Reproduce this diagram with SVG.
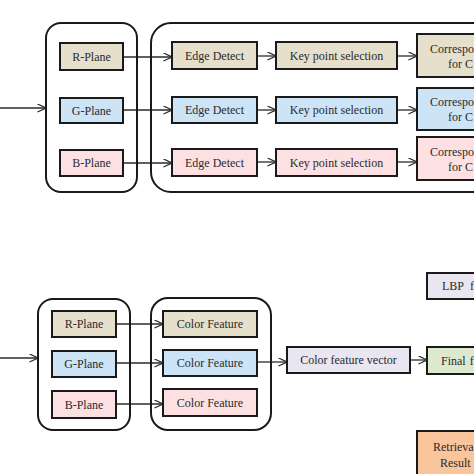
<svg xmlns="http://www.w3.org/2000/svg" width="474" height="474" viewBox="0 0 474 474">
<defs>
<marker id="arr" viewBox="0 0 10 10" refX="9.5" refY="5" markerWidth="9" markerHeight="9" markerUnits="userSpaceOnUse" orient="auto">
<path d="M0,0.5 L9.5,5 L0,9.5" fill="none" stroke="#2a2a2a" stroke-width="1.3"/>
</marker>
</defs>
<style>
.grp{fill:none;stroke:#1a1a1a;stroke-width:2}
.box{stroke:#1a1a1a;stroke-width:2}
.tan{fill:#e6dfcc}.blue{fill:#cde3f6}.pink{fill:#fde1e2}.lav{fill:#e9e5f1}.green{fill:#dde9cf}.orange{fill:#f9c59d}
text{font-family:"Liberation Serif","Times New Roman",serif;font-size:12px;fill:#2a2a2a;text-anchor:middle;dominant-baseline:central}
text.st{text-anchor:start}
.ln{fill:none;stroke:#2a2a2a;stroke-width:1.3;marker-end:url(#arr)}
</style>
<rect width="474" height="474" fill="#ffffff"/>

<g id="connectors">
<line class="ln" x1="0" y1="108" x2="46" y2="108"/>
<line class="ln" x1="123" y1="57" x2="172" y2="57"/>
<line class="ln" x1="123" y1="110" x2="172" y2="110"/>
<line class="ln" x1="123" y1="163" x2="172" y2="163"/>
<line class="ln" x1="257" y1="56" x2="276" y2="56"/>
<line class="ln" x1="257" y1="110" x2="276" y2="110"/>
<line class="ln" x1="257" y1="162" x2="276" y2="162"/>
<line class="ln" x1="397" y1="56" x2="417" y2="56"/>
<line class="ln" x1="397" y1="110" x2="417" y2="110"/>
<line class="ln" x1="397" y1="162" x2="417" y2="162"/>
<line class="ln" x1="0" y1="358" x2="38" y2="358"/>
<line class="ln" x1="116" y1="324" x2="163" y2="324"/>
<line class="ln" x1="116" y1="363" x2="163" y2="363"/>
<line class="ln" x1="116" y1="404" x2="163" y2="404"/>
<line class="ln" x1="257" y1="362" x2="287" y2="362"/>
<line class="ln" x1="410" y1="360" x2="427" y2="360"/>
</g>

<g id="group-top-planes"><rect class="grp" x="46" y="23" width="91" height="169" rx="15"/></g>
<g id="group-top-pipeline"><rect class="grp" x="151" y="23" width="360" height="169" rx="20"/></g>

<g id="top-r-plane"><rect class="box tan" x="60" y="43" width="63" height="27"/><text x="91.5" y="57">R-Plane</text></g>
<g id="top-g-plane"><rect class="box blue" x="60" y="98" width="63" height="25"/><text x="91.5" y="110.5">G-Plane</text></g>
<g id="top-b-plane"><rect class="box pink" x="60" y="150" width="63" height="26"/><text x="91.5" y="163">B-Plane</text></g>

<g id="edge-r"><rect class="box tan" x="172" y="42" width="85" height="27"/><text x="214.5" y="56">Edge Detect</text></g>
<g id="edge-g"><rect class="box blue" x="172" y="97" width="85" height="26"/><text x="214.5" y="110">Edge Detect</text></g>
<g id="edge-b"><rect class="box pink" x="172" y="149" width="85" height="27"/><text x="214.5" y="163">Edge Detect</text></g>

<g id="key-r"><rect class="box tan" x="276" y="42" width="121" height="27"/><text x="336.5" y="56">Key point selection</text></g>
<g id="key-g"><rect class="box blue" x="276" y="97" width="121" height="26"/><text x="336.5" y="110">Key point selection</text></g>
<g id="key-b"><rect class="box pink" x="276" y="149" width="121" height="27"/><text x="336.5" y="163">Key point selection</text></g>

<g id="corr-r"><rect class="box tan" x="417" y="34" width="110" height="43"/><text class="st" x="430" y="49">Correspo</text><text class="st" x="448" y="64">for C</text></g>
<g id="corr-g"><rect class="box blue" x="417" y="88" width="110" height="42"/><text class="st" x="430" y="102">Correspo</text><text class="st" x="448" y="117">for C</text></g>
<g id="corr-b"><rect class="box pink" x="417" y="137" width="110" height="43"/><text class="st" x="430" y="152">Correspo</text><text class="st" x="448" y="167">for C</text></g>

<g id="group-bottom-planes"><rect class="grp" x="38" y="299" width="92" height="131" rx="15"/></g>
<g id="group-bottom-color"><rect class="grp" x="151" y="298" width="120" height="132" rx="17"/></g>

<g id="bot-r-plane"><rect class="box tan" x="52" y="311" width="64" height="26"/><text x="84" y="324">R-Plane</text></g>
<g id="bot-g-plane"><rect class="box blue" x="52" y="351" width="64" height="26"/><text x="84" y="364">G-Plane</text></g>
<g id="bot-b-plane"><rect class="box pink" x="52" y="391" width="64" height="27"/><text x="84" y="404.5">B-Plane</text></g>

<g id="cf-r"><rect class="box tan" x="163" y="311" width="94" height="26"/><text x="210" y="324">Color Feature</text></g>
<g id="cf-g"><rect class="box blue" x="163" y="350" width="94" height="26"/><text x="210" y="363">Color Feature</text></g>
<g id="cf-b"><rect class="box pink" x="163" y="389" width="94" height="27"/><text x="210" y="402.5">Color Feature</text></g>

<g id="color-vector"><rect class="box lav" x="287" y="347" width="123" height="26"/><text x="348.5" y="360">Color feature vector</text></g>
<g id="lbp"><rect class="box lav" x="427" y="273" width="110" height="26"/><text class="st" x="442" y="286">LBP<tspan dx="6">f</tspan></text></g>
<g id="final"><rect class="box green" x="427" y="347" width="110" height="27"/><text class="st" x="441" y="360.5">Final<tspan dx="4">f</tspan></text></g>
<g id="retrieval"><rect class="box orange" x="417" y="431" width="100" height="60"/><text class="st" x="433" y="447">Retrieva</text><text class="st" x="440" y="463">Result</text></g>
</svg>
